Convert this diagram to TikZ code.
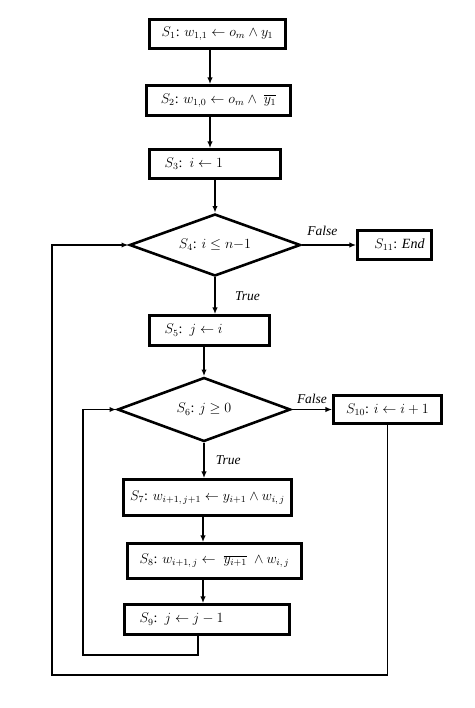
\documentclass[tikz,border=0pt]{standalone}
\usepackage{fontspec}
\setmainfont{Liberation Serif}
\usetikzlibrary{arrows.meta,shapes.geometric}

\tikzset{
  box/.style={draw,line width=2.6pt,inner sep=2pt},
  lbox/.style={box,align=left,inner xsep=0.45cm,text width=#1},
  cond/.style={diamond,draw,line width=2.2pt,inner sep=0pt,aspect=2.7},
  flow/.style={->,line width=2.2pt},
  back/.style={->,line width=1.2pt},
  tag/.style={font=\itshape\fontsize{11.5}{13}\selectfont},
}

\begin{document}
\begin{tikzpicture}[x=0.03cm,y=-0.03cm,>={Latex[length=2mm,width=1.6mm]},font=\large]
  \useasboundingbox (0,0) rectangle (474,708);
  \node[box,minimum width=4.07cm,minimum height=0.86cm] (s1) at (217.5,34)
    {$S_1$: $w_{1,1}\leftarrow o_m\wedge y_1$};
  \node[box,minimum width=4.31cm,minimum height=0.89cm] (s2) at (218.5,100.5)
    {$S_2$: $w_{1,0}\leftarrow o_m\wedge\;\overline{y_1}$};
  \node[lbox=3.02cm,minimum height=0.86cm] (s3) at (215,164) {$S_3$: $i\leftarrow 1$};
  \node[cond,minimum width=5.13cm,minimum height=1.86cm] (s4) at (215,245)
    {$S_4$: $i\leq n{-}1$};
  \node[box,minimum width=2.21cm,minimum height=0.89cm] (s11) at (394.5,245)
    {\hspace*{0.3cm}$S_{11}$: \textit{End}};
  \node[lbox=2.69cm,minimum height=0.89cm] (s5) at (209.5,330.5) {$S_5$: $j\leftarrow i$};
  \node[cond,minimum width=5.19cm,minimum height=1.92cm] (s6) at (204,409.5)
    {$S_6$: $j\geq 0$};
  \node[box,minimum width=3.23cm,minimum height=0.86cm] (s10) at (387.5,409.5)
    {$S_{10}$: $i\leftarrow i+1$};
  \node[box,minimum width=5.03cm,minimum height=1.07cm] (s7) at (207.5,497.5)
    {$S_7$: $w_{i+1,\,j+1}\leftarrow y_{i+1}\wedge w_{i,\,j}$};
  \node[box,minimum width=5.21cm,minimum height=1.04cm] (s8) at (214.5,561)
    {$S_8$: $w_{i+1,\,j}\leftarrow\;\overline{y_{i+1}}\;\wedge w_{i,\,j}$};
  \node[lbox=4.04cm,minimum height=0.89cm] (s9) at (207,619.5) {$S_9$: $j\leftarrow j-1$};

  \coordinate (c1) at (210,0);
  \coordinate (c2) at (203,0);
  \coordinate (c3) at (198,0);
  \coordinate (inner) at (83,655);
  \coordinate (outer) at (52,675);

  \draw[flow] (s1.south -| c1) -- (s2.north -| c1);
  \draw[flow] (s2.south -| c1) -- (s3.north -| c1);
  \draw[flow] (s3.south -| s4) -- (s4.north);
  \draw[flow] (s4.south) -- (s5.north -| s4)
    node[tag,midway,right=0.45cm] {True};
  \draw[flow] (s5.south -| s6) -- (s6.north);
  \draw[flow] (s6.south) -- (s7.north -| s6)
    node[tag,midway,right=0.2cm] {True};
  \draw[flow] (s7.south -| c2) -- (s8.north -| c2);
  \draw[flow] (s8.south -| c2) -- (s9.north -| c2);
  \draw[->,line width=1.4pt] (s4.east) -- (s11.west)
    node[tag,pos=0.38,above=4pt] {False};
  \draw[->,line width=1.4pt] (s6.east) -- (s10.west)
    node[tag,midway,above=1pt] {False};
  \draw[back] (s9.south -| c3) |- (inner) |- (s6.west);
  \draw[back] (s10.south) |- (outer) |- (s4.west);
\end{tikzpicture}
\end{document}
